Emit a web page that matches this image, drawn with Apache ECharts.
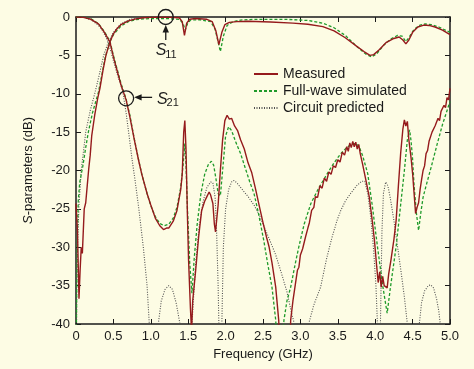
<!DOCTYPE html>
<html>
<head>
<meta charset="utf-8">
<script src="https://cdn.jsdelivr.net/npm/echarts@6/dist/echarts.min.js"></script>
<style>
html,body{margin:0;padding:0;background:#fdfce4;}
#c{width:474px;height:369px;}
</style>
</head>
<body>
<div id="c"></div>
<script>
// ---------- data (frequency in GHz, magnitude in dB) ----------
var xTicks = ['0','0.5','1.0','1.5','2.0','2.5','3.0','3.5','4.0','4.5','5.0'];
var legendNames = ['Measured','Full-wave simulated','Circuit predicted'];

var measS21F = [0,0.1,0.2,0.3,0.38,0.455,0.5,0.55,0.6,0.67,0.72,0.78,0.835,0.88,0.95,1.0,1.06,1.12,1.17,1.19,1.21,1.24,1.3,1.35,1.4,1.42,1.44,1.455,1.47,1.49,1.505,1.53,1.545,1.56,1.6,1.64,1.68,1.72,1.75,1.78,1.8,1.83,1.85,1.865,1.88,1.9,1.93,1.96,1.99,2.02,2.05,2.08,2.12,2.16,2.2,2.25,2.3,2.35,2.4,2.45,2.5,2.55,2.58,2.62,2.67,2.71,2.73,2.86,2.87,2.9,2.93,2.96,2.98,3.0,3.03,3.07,3.1,3.12,3.15,3.18,3.2,3.23,3.26,3.29,3.32,3.35,3.38,3.41,3.44,3.47,3.5,3.53,3.56,3.59,3.62,3.64,3.66,3.68,3.7,3.72,3.74,3.76,3.78,3.8,3.83,3.87,3.92,3.96,3.99,4.02,4.04,4.06,4.08,4.1,4.12,4.14,4.16,4.18,4.21,4.25,4.28,4.31,4.34,4.37,4.39,4.41,4.43,4.45,4.48,4.5,4.52,4.54,4.56,4.58,4.6,4.62,4.64,4.66,4.68,4.7,4.72,4.74,4.76,4.78,4.8,4.82,4.84,4.86,4.88,4.9,4.92,4.94,4.96,4.98,5.0];
var measS21dB = [0,-0.05,-0.3,-0.9,-2.0,-3.3,-5.2,-7.0,-8.8,-10.8,-13.0,-16.0,-18.6,-20.5,-23.0,-24.5,-26.2,-27.2,-27.7,-27.9,-27.5,-27.5,-26.6,-25.2,-22.5,-20.5,-15,-13.5,-17,-26,-31.7,-38,-41,-37,-33,-28.6,-25.2,-24.0,-23.4,-22.8,-23.2,-24.3,-27.0,-28.0,-26.5,-24.5,-20,-16,-13.5,-12.8,-13.3,-13.2,-14.2,-14.8,-16.0,-17.2,-19.0,-20.3,-22.4,-24.6,-26.8,-28.8,-29.9,-32,-35.2,-39.5,-44,-44,-39.5,-37,-35,-33,-32.6,-31,-30.2,-28.6,-27.5,-26.8,-25.2,-24.8,-23.4,-23.5,-22.0,-22.3,-21.0,-21.4,-20.2,-20.5,-19.4,-19.6,-18.6,-18.9,-17.6,-18.0,-16.9,-17.5,-16.4,-17.0,-16.2,-16.9,-16.3,-17.2,-16.6,-17.8,-19.1,-21,-23.4,-26.5,-29.1,-32.5,-34.6,-33.2,-35.2,-33.8,-35.0,-34.8,-35.3,-33.5,-31.7,-29,-26.5,-22,-17.8,-14.6,-13.4,-14.2,-13.6,-16,-18.4,-20.4,-23,-25.6,-24.8,-24.2,-22.5,-21.2,-20.0,-19.4,-17.8,-17.4,-16.2,-16.3,-15.0,-15.2,-14.2,-14.4,-13.2,-13.5,-12.3,-12.4,-11.5,-11.8,-10.5,-10.8,-9.3];

var measS11F = [0,0.02,0.04,0.055,0.07,0.085,0.11,0.13,0.15,0.17,0.19,0.21,0.25,0.29,0.32,0.36,0.4,0.455,0.5,0.55,0.6,0.7,0.8,0.9,1.0,1.2,1.38,1.42,1.45,1.48,1.52,1.6,1.75,1.82,1.87,1.91,1.95,1.99,2.05,2.15,2.3,2.6,2.9,3.1,3.3,3.45,3.6,3.75,3.85,3.93,3.98,4.05,4.15,4.25,4.32,4.37,4.41,4.45,4.5,4.57,4.65,4.72,4.8,4.9,5.0];
var measS11dB = [-24.3,-28,-36.7,-33,-30,-30.8,-25,-24.2,-22,-19.8,-18,-15.5,-12.8,-10.6,-9.3,-7,-5.0,-3.2,-2.2,-1.5,-1.0,-0.5,-0.25,-0.1,-0.05,-0.02,-0.1,-0.6,-2.4,-0.8,-0.3,-0.2,-0.3,-0.6,-1.8,-3.6,-2.0,-1.0,-0.7,-0.6,-0.55,-0.65,-0.8,-0.95,-1.25,-1.8,-2.7,-3.8,-4.5,-5.0,-4.9,-4.3,-3.3,-2.8,-2.6,-3.0,-3.5,-3.0,-2.0,-1.3,-1.05,-1.1,-1.3,-1.7,-2.3];

var fwS21F = [0,0.1,0.2,0.3,0.38,0.455,0.5,0.55,0.6,0.67,0.72,0.78,0.835,0.88,0.95,1.0,1.06,1.12,1.18,1.24,1.3,1.35,1.4,1.43,1.455,1.47,1.49,1.52,1.55,1.58,1.62,1.67,1.72,1.77,1.81,1.84,1.87,1.9,1.93,1.96,2.0,2.04,2.08,2.14,2.2,2.26,2.32,2.38,2.44,2.51,2.56,2.62,2.67,2.7,2.75,2.78,2.82,2.87,2.93,2.98,3.05,3.14,3.25,3.36,3.45,3.54,3.62,3.68,3.74,3.78,3.83,3.9,3.96,4.03,4.1,4.16,4.2,4.28,4.34,4.39,4.43,4.46,4.48,4.5,4.52,4.55,4.58,4.61,4.64,4.68,4.75,4.83,4.9,5.0];
var fwS21dB = [0,-0.05,-0.25,-0.85,-1.9,-3.2,-5.0,-6.8,-8.6,-10.7,-12.8,-15.9,-18.5,-20.5,-23.0,-24.6,-26.0,-26.9,-27.2,-27.0,-26.2,-24.8,-22.2,-19.5,-16.5,-19,-25,-32,-36,-31.5,-27,-23,-20.5,-19.2,-18.8,-19.3,-21,-23,-23.3,-20,-15.5,-14.3,-14.8,-16.4,-17.8,-19.6,-21.4,-23,-25.6,-29.1,-32,-35.2,-39.5,-45,-45,-39.5,-37,-35.2,-32.2,-29.9,-27,-24.3,-22.2,-20.4,-19.0,-17.8,-17.0,-16.6,-16.5,-16.8,-18.0,-20.4,-24.5,-29.9,-35,-38.6,-35.5,-29.9,-24.5,-20,-16,-14.7,-16.2,-18.5,-22,-25.5,-27.8,-25.5,-23.5,-22,-19.5,-16.5,-14,-11];

var fwS11F = [0,0.015,0.03,0.05,0.09,0.13,0.165,0.22,0.3,0.35,0.39,0.45,0.5,0.6,0.7,0.8,0.9,1.0,1.2,1.38,1.43,1.46,1.49,1.53,1.65,1.8,1.86,1.93,1.97,2.02,2.1,2.2,2.4,2.8,3.1,3.3,3.45,3.6,3.75,3.87,3.95,4.02,4.12,4.22,4.3,4.36,4.41,4.45,4.52,4.6,4.67,4.75,4.85,5.0];
var fwS11dB = [-45,-30,-24,-21.5,-19.5,-17,-15,-12.5,-9.8,-7.3,-5.3,-3.3,-2.3,-1.2,-0.6,-0.35,-0.25,-0.2,-0.2,-0.3,-0.8,-1.7,-0.9,-0.4,-0.35,-0.6,-1.6,-4.5,-2.5,-1.1,-0.6,-0.4,-0.3,-0.3,-0.45,-0.8,-1.4,-2.4,-3.8,-4.8,-5.2,-4.8,-3.6,-2.8,-2.4,-2.5,-3.2,-2.7,-1.6,-1.05,-0.9,-1.0,-1.3,-2.0];

var ckS21F = [0,0.1,0.2,0.3,0.35,0.4,0.43,0.47,0.5,0.55,0.6,0.63,0.67,0.71,0.75,0.79,0.84,0.9,0.95,0.98,1.0,1.08,1.1,1.14,1.19,1.24,1.29,1.34,1.39,1.42,1.52,1.55,1.6,1.65,1.7,1.75,1.8,1.83,1.86,1.88,1.9,1.91,1.92,1.94,1.95,1.97,2.0,2.04,2.08,2.11,2.15,2.2,2.3,2.38,2.45,2.51,2.6,2.67,2.75,2.82,2.88,2.92,2.95,3.08,3.11,3.18,3.27,3.35,3.42,3.49,3.54,3.6,3.67,3.75,3.82,3.86,3.9,3.94,3.98,4.01,4.03,4.04,4.06,4.07,4.09,4.11,4.14,4.17,4.2,4.25,4.3,4.35,4.39,4.43,4.45,4.57,4.59,4.62,4.66,4.71,4.74,4.78,4.82,4.85,4.87,4.9,5.0];
var ckS21dB = [0,-0.05,-0.35,-1.1,-1.7,-2.6,-3.3,-4.6,-5.7,-7.4,-8.9,-10.0,-12.5,-15.5,-18.6,-21.3,-25,-30,-35,-40,-45,-45,-40,-37,-35.5,-35,-35.5,-37.3,-40,-45,-45,-40,-32,-27,-24,-22.2,-21.5,-21.6,-23.5,-28,-35,-40,-50,-50,-40,-30,-25,-22.5,-21.5,-21.3,-21.6,-22.2,-23.4,-24.5,-25.8,-27.2,-29.3,-31,-33.5,-35.8,-38.5,-40,-45,-45,-40,-37.5,-35.2,-31.5,-28.8,-26.5,-25.2,-24,-23.0,-22,-21.4,-21.4,-23,-26,-30.5,-35,-40,-50,-50,-40,-28,-23,-21.5,-22,-23.5,-26.5,-30,-33.5,-36.5,-40,-45,-45,-40,-37.2,-35.7,-35.0,-34.9,-35.3,-36.7,-38.3,-40,-45,-50];

var ckS11F = [0,0.01,0.02,0.04,0.07,0.13,0.19,0.25,0.3,0.37,0.43,0.5,0.6,0.72,0.85,1.0,2.0,3.0,4.0,5.0];
var ckS11dB = [-60,-35,-30,-24.5,-20,-15,-12.2,-10,-8,-5,-3.3,-2.0,-0.9,-0.3,-0.1,-0.03,-0.03,-0.03,-0.03,-0.03];

// annotation anchor points (GHz, dB)
var s11Mark = [1.2, 0];
var s21Mark = [0.67, -10.6];

function pairs(f, v){ return f.map(function(x,i){ return [x, v[i]]; }); }

var RED = '#951a1c', GREEN = '#1f9a2a', GRAY = '#505050', INK = '#1a1a1a';
var FONT = 'Liberation Sans, Arial, sans-serif';

function mk(name, data, color, type, width, z){
  return {name:name, type:'line', data:data, xAxisIndex:0, yAxisIndex:0,
    showSymbol:false, symbol:'none', smooth:false, clip:true, z:z,
    lineStyle:{color:color, width:width, type:type}, itemStyle:{color:color},
    emphasis:{disabled:true}, animation:false};
}

var chart = echarts.init(document.getElementById('c'), null, {renderer:'canvas'});
var axisCommon = {
  axisLine:{show:true, onZero:false, lineStyle:{color:INK, width:1.5}},
  axisTick:{show:true, inside:true, length:5, lineStyle:{color:INK, width:1}},
  splitLine:{show:false}
};
var option = {
  backgroundColor:'#fdfce4',
  animation:false,
  textStyle:{fontFamily:FONT},
  grid:{left:76, right:24, top:17, bottom:45, containLabel:false},
  legend:{
    data:legendNames, orient:'vertical', left:253, top:67, padding:0,
    itemWidth:24, itemHeight:14, itemGap:3,
    itemStyle:{opacity:0, borderWidth:0},
    textStyle:{fontFamily:FONT, fontSize:14, color:INK},
    selectedMode:false
  },
  xAxis:[
    Object.assign({type:'value', min:0, max:5, interval:0.5, position:'bottom',
      name:'Frequency (GHz)', nameLocation:'middle', nameGap:24,
      nameTextStyle:{fontFamily:FONT, fontSize:13, color:INK},
      axisLabel:{show:true, margin:6, fontFamily:FONT, fontSize:13, color:INK,
        formatter:function(v){ var i=Math.round(v/0.5); return xTicks[i]; }}}, axisCommon),
    Object.assign({type:'value', min:0, max:5, interval:0.5, position:'top',
      axisLabel:{show:false}}, axisCommon)
  ],
  yAxis:[
    Object.assign({type:'value', min:-40, max:0, interval:5, position:'left',
      name:'{i|S}-parameters (dB)', nameLocation:'middle', nameGap:41, nameRotate:90,
      nameTextStyle:{fontFamily:FONT, fontSize:13, color:INK,
        rich:{i:{fontStyle:'italic', fontFamily:FONT, fontSize:13, color:INK}}},
      axisLabel:{show:true, margin:6, fontFamily:FONT, fontSize:13, color:INK}}, axisCommon),
    Object.assign({type:'value', min:-40, max:0, interval:5, position:'right',
      axisLabel:{show:false}}, axisCommon)
  ],
  series:[
    mk(legendNames[2], pairs(ckS21F, ckS21dB), GRAY, [1,1.5], 1.1, 2),
    mk(legendNames[2], pairs(ckS11F, ckS11dB), GRAY, [1,1.5], 1.1, 2),
    mk(legendNames[1], pairs(fwS21F, fwS21dB), GREEN, [3,2], 1.3, 3),
    mk(legendNames[1], pairs(fwS11F, fwS11dB), GREEN, [3,2], 1.3, 3),
    mk(legendNames[0], pairs(measS21F, measS21dB), RED, 'solid', 1.4, 4),
    mk(legendNames[0], pairs(measS11F, measS11dB), RED, 'solid', 1.4, 4)
  ]
};
chart.setOption(option);

// annotations placed from data coordinates
var p11 = chart.convertToPixel({gridIndex:0}, s11Mark);
var p21 = chart.convertToPixel({gridIndex:0}, s21Mark);
var R = 7.5;
var stroke = {stroke:INK, lineWidth:1.3, fill:null};
var g = [];
// S11 circle + vertical arrow + label
g.push({type:'circle', shape:{cx:p11[0], cy:p11[1], r:R}, style:stroke, z:20});
g.push({type:'line', shape:{x1:p11[0], y1:p11[1]+23, x2:p11[0], y2:p11[1]+14}, style:{stroke:INK, lineWidth:1.3}, z:20});
g.push({type:'polygon', shape:{points:[[p11[0], p11[1]+R+0.5],[p11[0]-3.2, p11[1]+15.5],[p11[0]+3.2, p11[1]+15.5]]}, style:{fill:INK}, z:20});
g.push({type:'text', x:p11[0]-10, y:p11[1]+26, style:{text:'S', font:'italic 16px '+FONT, fill:INK}, z:20});
g.push({type:'text', x:p11[0]-0.5, y:p11[1]+32, style:{text:'11', font:'11px '+FONT, fill:INK}, z:20});
// S21 circle + horizontal arrow + label
g.push({type:'circle', shape:{cx:p21[0], cy:p21[1], r:R}, style:stroke, z:20});
g.push({type:'line', shape:{x1:p21[0]+26, y1:p21[1]-1, x2:p21[0]+14, y2:p21[1]-1}, style:{stroke:INK, lineWidth:1.3}, z:20});
g.push({type:'polygon', shape:{points:[[p21[0]+R+0.5, p21[1]-1],[p21[0]+15.5, p21[1]-4.2],[p21[0]+15.5, p21[1]+2.2]]}, style:{fill:INK}, z:20});
g.push({type:'text', x:p21[0]+31, y:p21[1]-7, style:{text:'S', font:'italic 16px '+FONT, fill:INK}, z:20});
g.push({type:'text', x:p21[0]+40.5, y:p21[1]-1, style:{text:'21', font:'11px '+FONT, fill:INK}, z:20});
chart.setOption({graphic:g});
</script>
</body>
</html>
